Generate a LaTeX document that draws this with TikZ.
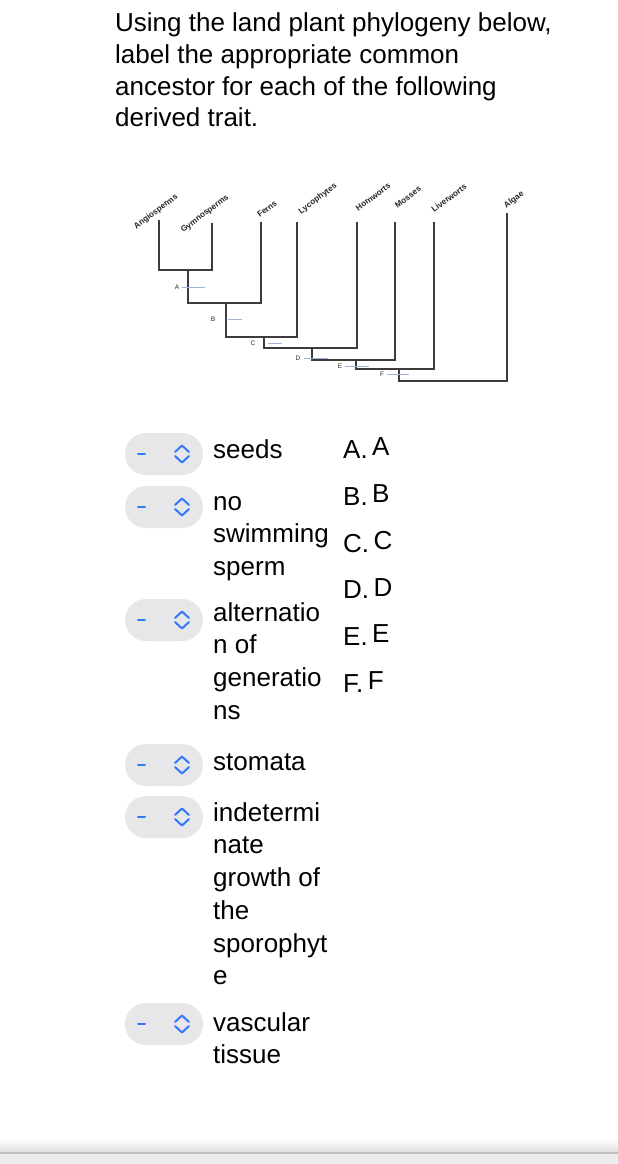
\documentclass[tikz,border=0pt]{standalone}
\usepackage{fontspec}
\setmainfont{Liberation Sans}
\definecolor{pillgray}{RGB}{231,231,233}
\definecolor{iosblue}{RGB}{52,120,246}
\definecolor{tickblue}{RGB}{160,178,220}
\definecolor{branchc}{RGB}{60,60,60}
\tikzset{
  branch/.style={draw=branchc, line width=1.1pt},
  tickln/.style={draw=tickblue, line width=0.7pt},
  taxon/.style={rotate=37, font=\bfseries\fontsize{8.2}{9}\selectfont, text=black!85, inner sep=0},
  nodelbl/.style={font=\fontsize{6.5}{7}\selectfont, text=black!85, inner sep=0},
  pill/.style={fill=pillgray, rounded corners=21pt, minimum width=78pt, minimum height=42pt, inner sep=0},
  ans/.style={font=\fontsize{26}{32.75}\selectfont, anchor=base west, inner sep=0},
  head/.style={font=\fontsize{26}{31.5}\selectfont, anchor=base west, inner sep=0},
  ctl/.style={draw=iosblue, line width=2pt, line cap=round, line join=round},
}
\newcommand{\pillctl}[2]{%
  \node[pill] (#1) at (164,#2) {};
  \draw[ctl] ([xshift=-26pt]#1.center) -- ([xshift=-19pt]#1.center);
  \draw[ctl] ([xshift=11pt,yshift=-2pt]#1.center) -- ([xshift=18pt,yshift=-8.5pt]#1.center) -- ([xshift=25pt,yshift=-2pt]#1.center);
  \draw[ctl] ([xshift=11pt,yshift=2pt]#1.center) -- ([xshift=18pt,yshift=8.5pt]#1.center) -- ([xshift=25pt,yshift=2pt]#1.center);
}
\begin{document}
\begin{tikzpicture}[x=1pt,y=-1pt]
\useasboundingbox (0,0) rectangle (618,1164);
\fill[white] (0,0) rectangle (618,1164);

% heading
\node[head] (h1) at (115,32) {Using the land plant phylogeny below,};
\node[head] (h2) at (115,63.5) {label the appropriate common};
\node[head] (h3) at (115,95) {ancestor for each of the following};
\node[head] (h4) at (115,126.5) {derived trait.};

% tree tips
\coordinate (ang) at (159,220);
\coordinate (gym) at (212,223);
\coordinate (fern) at (261,222);
\coordinate (lyc) at (297,222);
\coordinate (horn) at (357,222);
\coordinate (moss) at (395,222);
\coordinate (liver) at (434,222);
\coordinate (alg) at (507,213);
% junctions
\coordinate (jA) at (188,270);  \coordinate (sA) at (188,303);
\coordinate (jB) at (226,303);  \coordinate (sB) at (226,337);
\coordinate (jC) at (264,337);  \coordinate (sC) at (264,348);
\coordinate (jD) at (312,348);  \coordinate (sD) at (312,360);
\coordinate (jE) at (356,360);  \coordinate (sE) at (356,369);
\coordinate (jF) at (399,369);  \coordinate (sF) at (399,381);

\draw[branch] (ang) |- (jA) -| (gym);
\draw[branch] (jA) -- (sA) -| (fern);
\draw[branch] (jB) -- (sB) -| (lyc);
\draw[branch] (jC) -- (sC) -| (horn);
\draw[branch] (jD) -- (sD) -| (moss);
\draw[branch] (jE) -- (sE) -| (liver);
\draw[branch] (jF) -- (sF) -| (alg);

% taxon labels
\node[taxon] (tAng) at (156,212) {Angiosperms};
\node[taxon] (tGym) at (205,214) {Gymnosperms};
\node[taxon] (tFern) at (267,209) {Ferns};
\node[taxon] (tLyc) at (318,199) {Lycophytes};
\node[taxon] (tHorn) at (373,197) {Hornworts};
\node[taxon] (tMoss) at (408,197) {Mosses};
\node[taxon] (tLiv) at (449,198) {Liverworts};
\node[taxon] (tAlg) at (514,200) {Algae};

% node labels and ticks
\node[nodelbl] (lA) at (177,287) {A};
\node[nodelbl] (lB) at (213,319) {B};
\node[nodelbl] (lC) at (253,343) {C};
\node[nodelbl] (lD) at (298,358) {D};
\node[nodelbl] (lE) at (340,366) {E};
\node[nodelbl] (lF) at (382,374) {F};
\draw[tickln] ([xshift=3pt]lA.east) -- ++(23,0);
\draw[tickln] ([xshift=13pt]lB.east) -- ++(14,0);
\draw[tickln] ([xshift=12pt]lC.east) -- ++(14,0);
\draw[tickln] ([xshift=3pt]lD.east) -- ++(24,0);
\draw[tickln] ([xshift=3pt]lE.east) -- ++(24,0);
\draw[tickln] ([xshift=3pt]lF.east) -- ++(22,0);

% pills
\pillctl{p1}{454}
\pillctl{p2}{507}
\pillctl{p3}{620}
\pillctl{p4}{765}
\pillctl{p5}{817}
\pillctl{p6}{1024}

% answer texts
\node[ans] (a1) at (213,458) {seeds};
\node[ans] (a2a) at (213,510) {no};
\node[ans] (a2b) at (213,542.75) {swimming};
\node[ans] (a2c) at (213,575.5) {sperm};
\node[ans] (a3a) at (213,621) {alternatio};
\node[ans] (a3b) at (213,653.75) {n of};
\node[ans] (a3c) at (213,686.5) {generatio};
\node[ans] (a3d) at (213,719.25) {ns};
\node[ans] (a4) at (213,770) {stomata};
\node[ans] (a5a) at (213,821) {indetermi};
\node[ans] (a5b) at (213,853.75) {nate};
\node[ans] (a5c) at (213,886.5) {growth of};
\node[ans] (a5d) at (213,919.25) {the};
\node[ans] (a5e) at (213,952) {sporophyt};
\node[ans] (a5f) at (213,984.75) {e};
\node[ans] (a6a) at (213,1031) {vascular};
\node[ans] (a6b) at (213,1063.75) {tissue};

% choices
\node[ans] (cA) at (343,458) {A.\,\raisebox{2.5pt}{A}};
\node[ans] (cB) at (343,505) {B.\,\raisebox{2.5pt}{B}};
\node[ans] (cC) at (343,552) {C.\,\raisebox{2.5pt}{C}};
\node[ans] (cD) at (343,598.5) {D.\,\raisebox{2.5pt}{D}};
\node[ans] (cE) at (343,645) {E.\,\raisebox{2.5pt}{E}};
\node[ans] (cF) at (343,692) {F.\,\raisebox{2.5pt}{F}};

% bottom bar
\shade[top color=white, bottom color=black!12] (0,1138) rectangle (618,1152);
\draw[draw=black!25, line width=1.5pt] (0,1153) -- (618,1153);
\fill[black!7] (0,1154) rectangle (618,1164);
\end{tikzpicture}
\end{document}
